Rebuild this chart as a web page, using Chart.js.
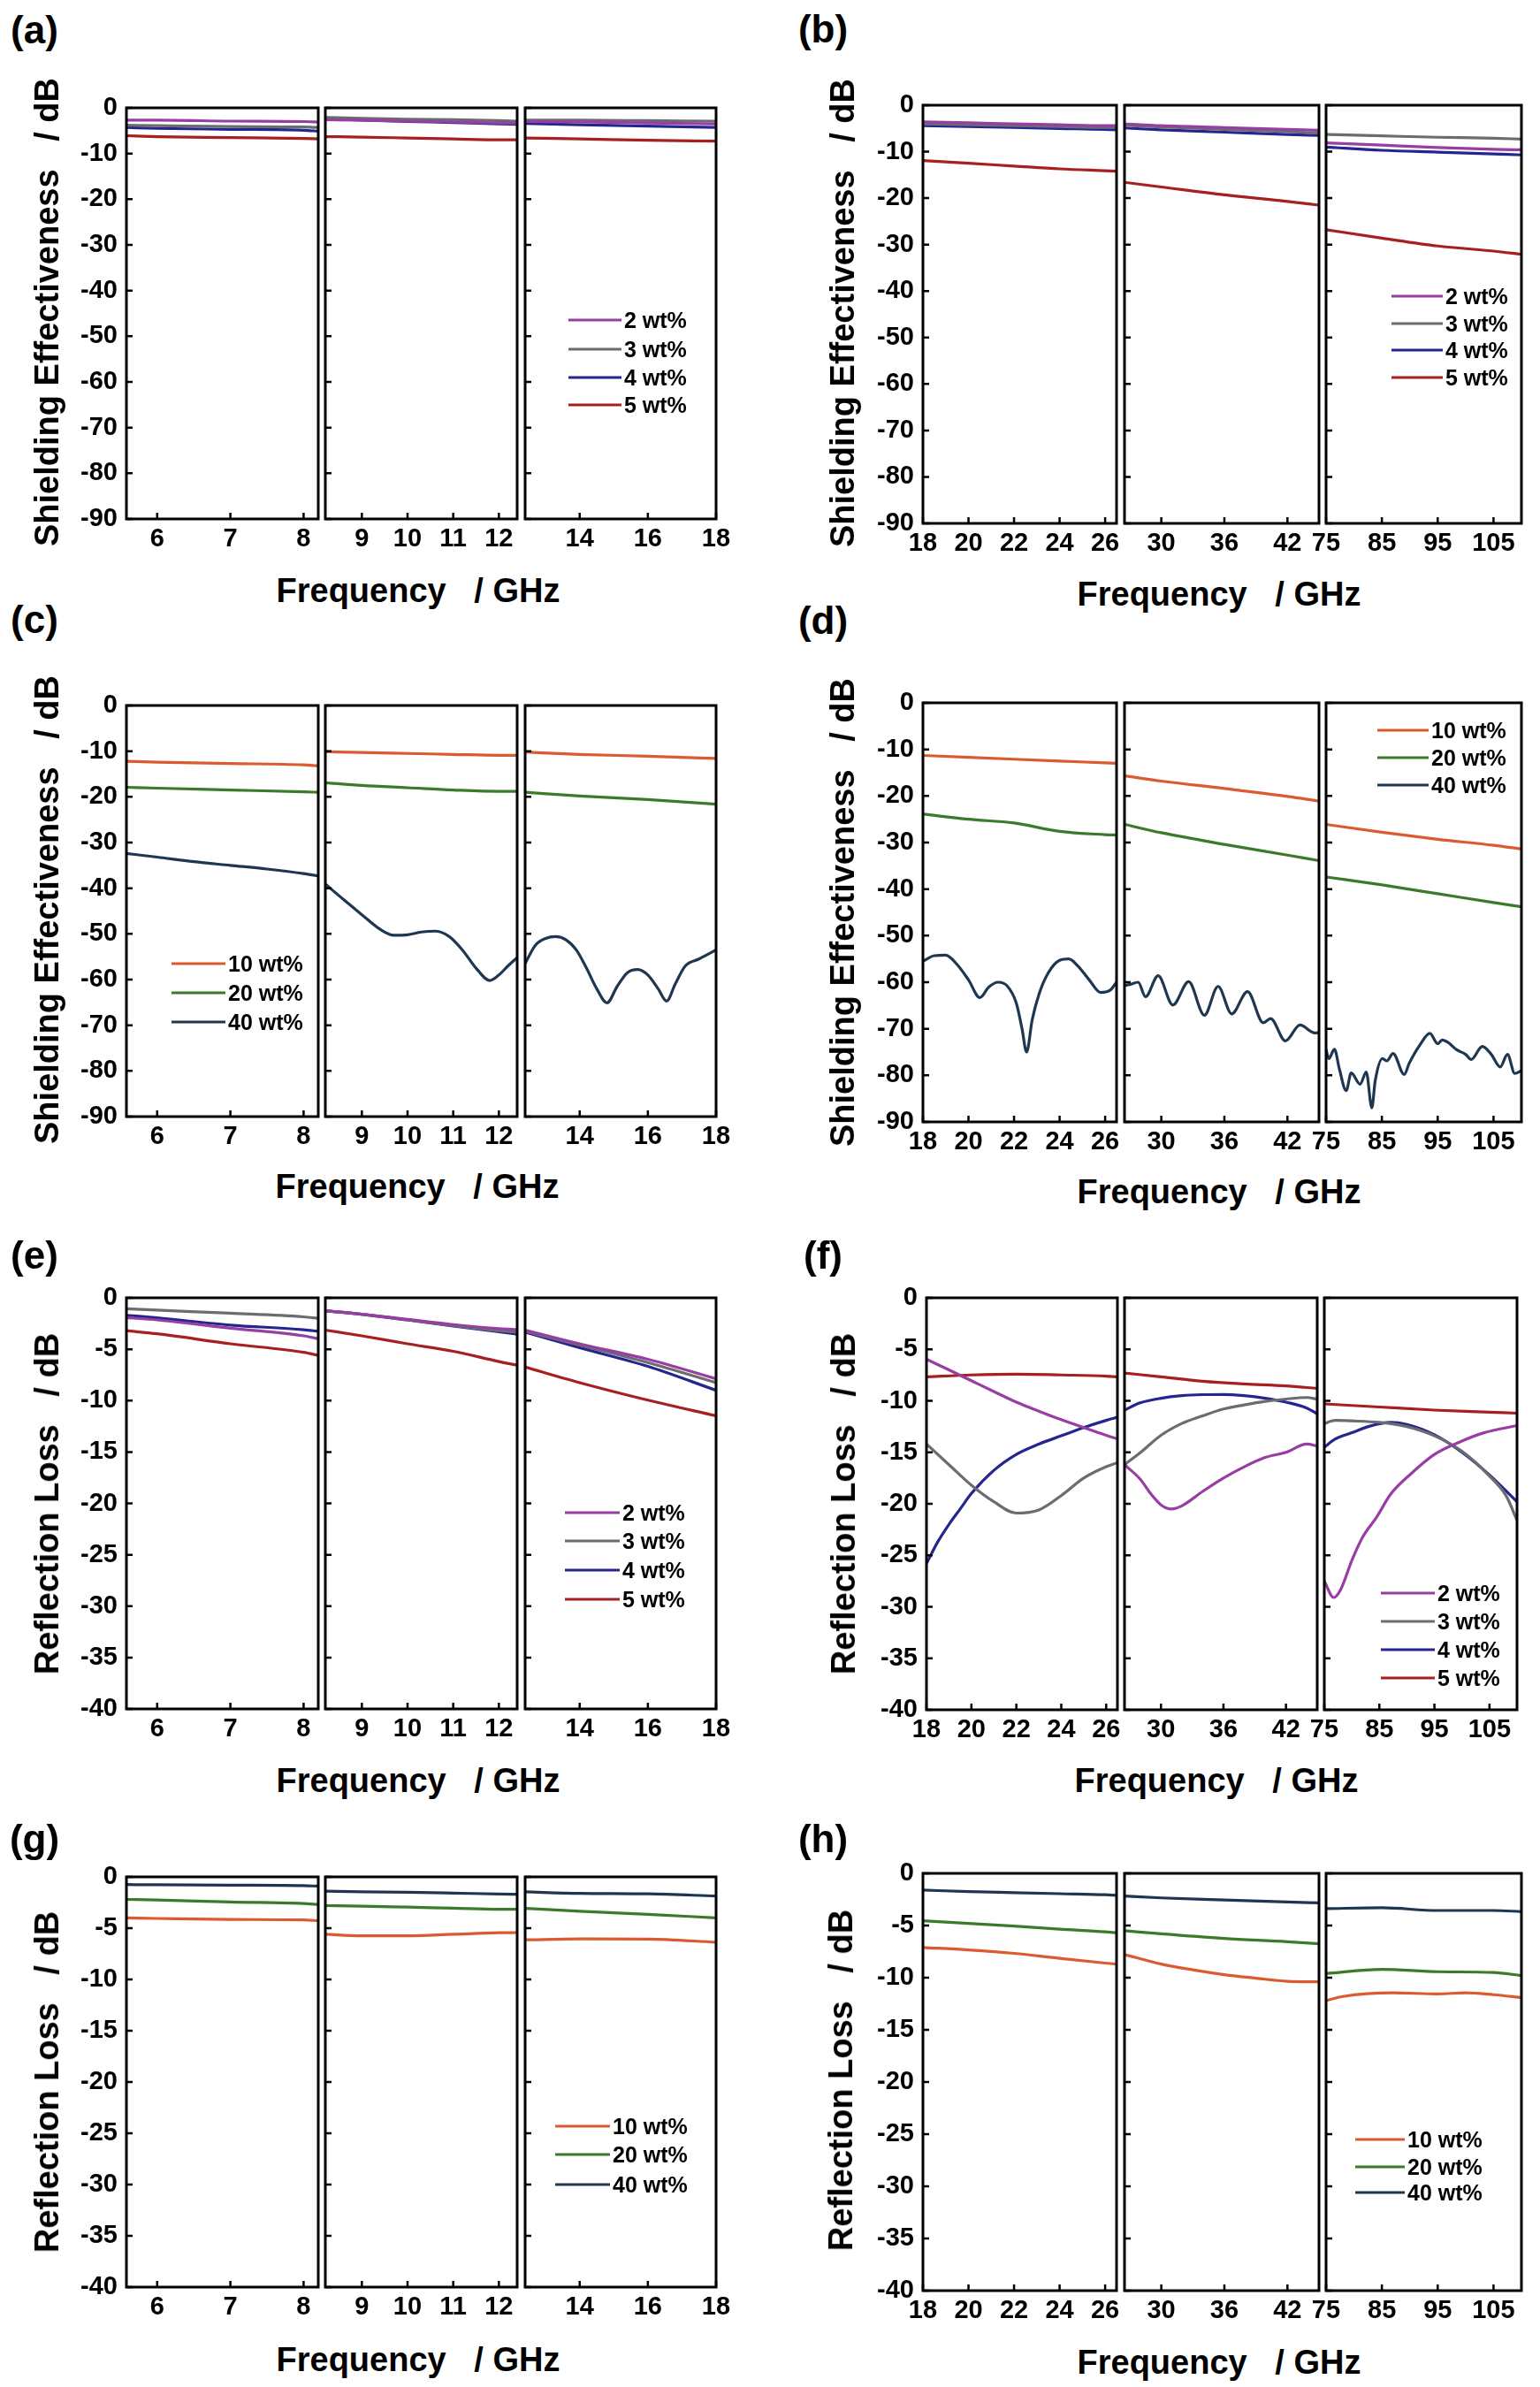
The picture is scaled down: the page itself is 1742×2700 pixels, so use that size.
<!DOCTYPE html>
<html>
<head>
<meta charset="utf-8">
<script src="https://cdn.jsdelivr.net/npm/chart.js@4.4.0/dist/chart.umd.min.js"></script>
<style>
  body { margin: 0; width: 1742px; height: 2700px; position: relative; overflow: hidden; background: #fff;
         font-family: "Liberation Sans", Arial, sans-serif; font-weight: bold; color: #000; }
  canvas { position: absolute; }
  .txt { position: absolute; white-space: pre; line-height: 1; }
  .leg { position: absolute; display: flex; align-items: center; transform: translateY(-50%);
         font-size: 25px; line-height: 1; white-space: pre; }
  .sw { display: inline-block; height: 3px; margin-right: 3px; }
</style>
</head>
<body>
<script>
// frequency grids (GHz), one per band
const fC = [5.58, 6, 7, 8, 8.2];
const fX = [8.2, 9, 10, 11, 12, 12.4];
const fKu = [12.4, 14, 16, 18];
const fK = [18, 20, 22, 24, 26, 26.5];
const fKa = [26.5, 30, 36, 42, 45];
const fW = [75, 85, 95, 105, 110];
const gridLow = [fC, fX, fKu];
const gridHigh = [fK, fKa, fW];

// axis ranges and ticks
const limitsLow = [[5.58, 8.2], [8.2, 12.4], [12.4, 18]];
const limitsHigh = [[18, 26.5], [26.5, 45], [75, 110]];
const ticksLow = [[6, 7, 8], [9, 10, 11, 12], [14, 16, 18]];
const ticksHigh = [[18, 20, 22, 24, 26], [30, 36, 42], [75, 85, 95, 105]];
const ticksSE = [0, -10, -20, -30, -40, -50, -60, -70, -80, -90];
const ticksRL = [0, -5, -10, -15, -20, -25, -30, -35, -40];

const loadsA = ['2 wt%', '3 wt%', '4 wt%', '5 wt%'];
const loadsB = ['10 wt%', '20 wt%', '40 wt%'];
const colorsA = ['#983ea3', '#6b6b72', '#25258f', '#a81f20'];
const colorsB = ['#dc5a30', '#3b7a2a', '#1f3651'];

// (a) shielding effectiveness, 2-5 wt%, 5.6-18 GHz
const seA2 = [[-2.7, -2.7, -2.9, -3.0, -3.1], [-2.6, -2.7, -2.9, -3.1, -3.3, -3.4], [-3.0, -3.1, -3.3, -3.5]];
const seA3 = [[-3.8, -3.9, -4.1, -4.2, -4.3], [-2.1, -2.3, -2.5, -2.6, -2.8, -2.9], [-2.7, -2.7, -2.8, -2.9]];
const seA4 = [[-4.3, -4.5, -4.7, -4.9, -5.1], [-2.4, -2.7, -3.0, -3.2, -3.5, -3.6], [-3.4, -3.7, -4.0, -4.3]];
const seA5 = [[-6.1, -6.3, -6.5, -6.7, -6.8], [-6.3, -6.4, -6.6, -6.8, -7.0, -7.0], [-6.6, -6.8, -7.1, -7.3]];

// (b) shielding effectiveness, 2-5 wt%, 18-110 GHz
const seB2 = [[-3.6, -3.8, -4.0, -4.2, -4.4, -4.4], [-4.0, -4.4, -4.8, -5.2, -5.4], [-8.1, -8.6, -9.1, -9.5, -9.6]];
const seB3 = [[-4.0, -4.2, -4.4, -4.6, -4.8, -4.8], [-4.3, -4.7, -5.2, -5.7, -6.0], [-6.3, -6.6, -6.9, -7.1, -7.3]];
const seB4 = [[-4.4, -4.6, -4.8, -5.0, -5.2, -5.3], [-4.9, -5.3, -5.8, -6.3, -6.5], [-9.0, -9.7, -10.1, -10.5, -10.7]];
const seB5 = [[-11.9, -12.5, -13.1, -13.7, -14.1, -14.2], [-16.6, -17.6, -19.3, -20.7, -21.5], [-26.8, -28.6, -30.3, -31.4, -32.1]];

// (c) shielding effectiveness, 10-40 wt%, 5.6-18 GHz
const seC10 = [[-12.2, -12.4, -12.7, -13.0, -13.2], [-10.1, -10.3, -10.5, -10.7, -10.9, -10.9], [-10.2, -10.7, -11.1, -11.6]];
const seC20 = [[-17.9, -18.1, -18.5, -18.9, -19.0], [-16.9, -17.5, -18.0, -18.5, -18.8, -18.8], [-19.0, -19.8, -20.6, -21.6]];
const fC40 = [
  [5.58, 6, 6.5, 7, 7.5, 8, 8.2],
  [8.2, 8.6, 9.0, 9.4, 9.7, 10.0, 10.3, 10.6, 10.9, 11.2, 11.5, 11.8, 12.0, 12.2, 12.4],
  [12.4, 12.7, 13.0, 13.3, 13.6, 13.9, 14.2, 14.5, 14.8, 15.1, 15.4, 15.7, 16.0, 16.3, 16.55, 16.8, 17.1, 17.5, 18.0]
];
const seC40 = [
  [-32.4, -33.2, -34.2, -35.0, -35.8, -36.8, -37.3],
  [-39.1, -42.5, -45.8, -49.0, -50.3, -50.2, -49.6, -49.4, -50.5, -53.5, -57.5, -60.2, -59.0, -57.0, -55.2],
  [-56.5, -52.5, -51.0, -50.6, -51.3, -53.5, -57.5, -62.0, -65.1, -61.5, -58.5, -57.8, -59.0, -62.0, -64.7, -61.0, -57.0, -55.5, -53.5]
];

// (d) shielding effectiveness, 10-40 wt%, 18-110 GHz
const seD10 = [[-11.3, -11.7, -12.1, -12.5, -12.9, -13.0], [-15.7, -16.8, -18.4, -20.1, -21.1], [-26.1, -27.8, -29.3, -30.6, -31.4]];
const seD20 = [[-23.9, -25.0, -25.8, -27.6, -28.3, -28.4], [-26.1, -27.9, -30.4, -32.7, -33.9], [-37.4, -39.1, -41.0, -42.9, -43.8]];
const fD40 = [
  [18, 18.5, 19.0, 19.5, 20.0, 20.5, 20.9, 21.3, 21.7, 22.1, 22.35, 22.55, 22.8, 23.1, 23.5, 24.0, 24.4, 24.8, 25.3, 25.8, 26.2, 26.5],
  [26.5, 27.0, 27.8, 28.5, 29.7, 31.1, 32.6, 34.1, 35.4, 36.7, 38.2, 39.7, 40.4, 41.8, 43.2, 44.6, 45],
  [75, 75.5, 76.5, 77.4, 78.6, 79.5, 81.1, 82.2, 83.2, 83.8, 85.1, 85.9, 87.0, 89.0, 89.9, 91.8, 93.6, 95.0, 95.8, 96.8, 98.4, 100.0, 101.0, 103.0, 104.6, 106.2, 107.5, 108.8, 110]
];
const seD40 = [
  [-55.5, -54.3, -54.2, -56.2, -59.5, -63.3, -61.0, -60.0, -60.8, -64.5, -70.0, -75.0, -68.0, -62.5, -58.0, -55.3, -55.0, -56.5, -59.5, -62.2, -61.8, -60.0],
  [-60.7, -60.5, -60.0, -63.1, -58.6, -64.9, -59.9, -67.1, -60.9, -66.8, -62.0, -68.7, -67.8, -72.6, -69.2, -70.9, -70.8],
  [-74.5, -76.4, -74.4, -78.7, -83.3, -79.5, -81.9, -79.3, -87.0, -81.2, -76.4, -76.9, -75.3, -79.8, -77.4, -73.5, -71.0, -73.2, -72.4, -72.9, -74.5, -75.5, -76.6, -73.8, -75.5, -78.2, -75.5, -79.6, -79.0]
];

// (e) reflection loss, 2-5 wt%, 5.6-18 GHz
const rlE2 = [[-1.93, -2.15, -2.95, -3.7, -3.98], [-1.25, -1.6, -2.1, -2.6, -3.0, -3.1], [-3.14, -4.47, -5.98, -7.88]];
const rlE3 = [[-1.06, -1.2, -1.5, -1.85, -2.0], [-1.25, -1.6, -2.15, -2.7, -3.2, -3.35], [-3.26, -4.6, -6.3, -8.26]];
const rlE4 = [[-1.7, -1.95, -2.65, -3.1, -3.26], [-1.25, -1.6, -2.15, -2.75, -3.3, -3.55], [-3.33, -4.85, -6.67, -9.0]];
const rlE5 = [[-3.2, -3.5, -4.47, -5.3, -5.6], [-3.14, -3.7, -4.47, -5.2, -6.2, -6.55], [-6.74, -8.26, -9.96, -11.48]];

// (f) reflection loss, 2-5 wt%, 18-110 GHz
const fF2 = [[18, 19, 20, 21, 22, 23, 24, 25, 26, 26.5], [26.5, 28, 29, 30, 31, 32, 34, 36, 38, 40, 42, 44, 45], [75, 76.7, 78, 80, 82, 84.5, 87, 90.7, 95, 100, 104, 110]];
const rlF2 = [
  [-5.97, -7.0, -8.05, -9.1, -10.13, -11.0, -11.83, -12.6, -13.35, -13.7],
  [-16.2, -17.6, -19.0, -20.1, -20.5, -20.2, -18.8, -17.5, -16.4, -15.5, -15.0, -14.2, -14.4],
  [-27.5, -29.1, -28.3, -25.5, -23.2, -21.3, -19.1, -17.1, -15.2, -13.9, -13.1, -12.4]
];
const fF3 = [[18, 19, 20, 21, 22, 23, 24, 25, 26, 26.5], [26.5, 28, 30, 32, 34, 36, 38, 40, 42, 44, 45], [75, 77, 80, 85, 90, 95, 100, 105, 108, 110]];
const rlF3 = [
  [-14.2, -16.2, -18.2, -19.8, -20.9, -20.6, -19.2, -17.5, -16.4, -16.0],
  [-16.2, -15.05, -13.35, -12.2, -11.46, -10.8, -10.4, -10.06, -9.83, -9.68, -9.83],
  [-12.2, -11.9, -11.95, -12.1, -12.5, -13.4, -14.9, -17.3, -19.2, -21.6]
];
const fF4 = [[18, 18.5, 19, 19.5, 20, 21, 22, 23, 24, 25, 26, 26.5], [26.5, 28, 30, 32, 34, 36, 38, 40, 42, 44, 45], [75, 77, 80, 83, 87, 90, 95, 100, 105, 110]];
const rlF4 = [
  [-25.8, -23.7, -22.0, -20.5, -19.0, -16.75, -15.2, -14.2, -13.4, -12.6, -11.9, -11.6],
  [-10.9, -10.2, -9.75, -9.5, -9.4, -9.38, -9.5, -9.75, -10.13, -10.7, -11.27],
  [-14.5, -13.7, -13.1, -12.5, -12.1, -12.3, -13.3, -15.0, -17.2, -19.8]
];
const fF5 = [[18, 20, 22, 24, 26, 26.5], [26.5, 30, 34, 38, 42, 45], [75, 85, 95, 105, 110]];
const rlF5 = [[-7.67, -7.49, -7.41, -7.49, -7.6, -7.67], [-7.3, -7.67, -8.1, -8.36, -8.55, -8.8], [-10.3, -10.6, -10.9, -11.1, -11.2]];

// (g) reflection loss, 10-40 wt%, 5.6-18 GHz
const rlG10 = [[-4.0, -4.05, -4.15, -4.2, -4.27], [-5.6, -5.75, -5.75, -5.6, -5.45, -5.43], [-6.14, -6.05, -6.07, -6.37]];
const rlG20 = [[-2.2, -2.25, -2.45, -2.6, -2.7], [-2.8, -2.85, -2.95, -3.05, -3.15, -3.15], [-3.07, -3.35, -3.65, -4.0]];
const rlG40 = [[-0.75, -0.77, -0.8, -0.85, -0.9], [-1.39, -1.45, -1.5, -1.58, -1.67, -1.69], [-1.46, -1.6, -1.65, -1.87]];

// (h) reflection loss, 10-40 wt%, 18-110 GHz
const fH10 = [fK, [26.5, 30, 33, 36, 39, 42, 45], [75, 78, 87, 95, 100, 105, 110]];
const rlH10 = [[-7.1, -7.34, -7.67, -8.15, -8.6, -8.7], [-7.78, -8.7, -9.25, -9.72, -10.05, -10.35, -10.4], [-12.2, -11.8, -11.45, -11.56, -11.45, -11.63, -11.9]];
const rlH20 = [[-4.55, -4.8, -5.05, -5.35, -5.6, -5.7], [-5.5, -5.8, -6.24, -6.55, -6.75], [-9.6, -9.2, -9.43, -9.5, -9.8]];
const rlH40 = [[-1.6, -1.75, -1.85, -1.95, -2.05, -2.1], [-2.17, -2.35, -2.55, -2.75, -2.83], [-3.38, -3.3, -3.56, -3.56, -3.67]];

// page layout (pixels)
const colL = [[143, 360], [368, 585], [594, 810]];
const colR = [[1044, 1263], [1272, 1492], [1500, 1721]];
const colF = [[1048, 1264], [1272, 1490], [1498, 1716]];

const panels = [
  { tag: '(a)', kind: 'SE', band: 'low', frames: colL, top: 122, bottom: 587, names: loadsA, colors: colorsA,
    series: [[gridLow, seA2], [gridLow, seA3], [gridLow, seA4], [gridLow, seA5]],
    legend: { x: 643, w: 60, rows: [362, 395, 427, 458] }, tagPos: [39, 34], xTitle: [473, 668], yTitle: [53, 353] },
  { tag: '(b)', kind: 'SE', band: 'high', frames: colR, top: 119, bottom: 592, names: loadsA, colors: colorsA,
    series: [[gridHigh, seB2], [gridHigh, seB3], [gridHigh, seB4], [gridHigh, seB5]],
    legend: { x: 1574, w: 58, rows: [335, 366, 396, 427] }, tagPos: [931, 33], xTitle: [1379, 672], yTitle: [953, 354] },
  { tag: '(c)', kind: 'SE', band: 'low', frames: colL, top: 798, bottom: 1263, names: loadsB, colors: colorsB,
    series: [[gridLow, seC10], [gridLow, seC20], [fC40, seC40]],
    legend: { x: 194, w: 61, rows: [1090, 1123, 1156] }, tagPos: [39, 701], xTitle: [472, 1342], yTitle: [53, 1029] },
  { tag: '(d)', kind: 'SE', band: 'high', frames: colR, top: 795, bottom: 1269, names: loadsB, colors: colorsB,
    series: [[gridHigh, seD10], [gridHigh, seD20], [fD40, seD40]],
    legend: { x: 1558, w: 58, rows: [826, 857, 888] }, tagPos: [931, 702], xTitle: [1379, 1348], yTitle: [953, 1032] },
  { tag: '(e)', kind: 'RL', band: 'low', frames: colL, top: 1468, bottom: 1933, names: loadsA, colors: colorsA,
    series: [[gridLow, rlE2], [gridLow, rlE3], [gridLow, rlE4], [gridLow, rlE5]],
    legend: { x: 639, w: 62, rows: [1711, 1743, 1776, 1809] }, tagPos: [39, 1420], xTitle: [473, 2014], yTitle: [53, 1701] },
  { tag: '(f)', kind: 'RL', band: 'high', frames: colF, top: 1468, bottom: 1934, names: loadsA, colors: colorsA,
    series: [[fF2, rlF2], [fF3, rlF3], [fF4, rlF4], [fF5, rlF5]],
    legend: { x: 1562, w: 61, rows: [1802, 1834, 1866, 1898] }, tagPos: [931, 1420], xTitle: [1376, 2014], yTitle: [954, 1701] },
  { tag: '(g)', kind: 'RL', band: 'low', frames: colL, top: 2123, bottom: 2587, names: loadsB, colors: colorsB,
    series: [[gridLow, rlG10], [gridLow, rlG20], [gridLow, rlG40]],
    legend: { x: 628, w: 62, rows: [2405, 2437, 2471] }, tagPos: [39, 2080], xTitle: [473, 2669], yTitle: [53, 2355] },
  { tag: '(h)', kind: 'RL', band: 'high', frames: colR, top: 2119, bottom: 2591, names: loadsB, colors: colorsB,
    series: [[fH10, rlH10], [gridHigh, rlH20], [gridHigh, rlH40]],
    legend: { x: 1533, w: 56, rows: [2420, 2451, 2480] }, tagPos: [931, 2080], xTitle: [1379, 2672], yTitle: [951, 2353] }
];

const titles = { SE: 'Shielding Effectiveness   / dB', RL: 'Reflection Loss   / dB' };

Chart.defaults.font.family = '"Liberation Sans", Arial, sans-serif';
Chart.defaults.font.weight = 'bold';
Chart.defaults.color = '#000';

// box around each sub-plot plus inward tick marks
const frameTicks = {
  id: 'frameTicks',
  afterDatasetsDraw(chart) {
    const { ctx, chartArea: a, scales: { x, y } } = chart;
    ctx.save();
    ctx.strokeStyle = '#000';
    ctx.lineWidth = 2.5;
    ctx.beginPath();
    x.ticks.forEach(t => {
      const px = x.getPixelForValue(t.value);
      ctx.moveTo(px, a.bottom);
      ctx.lineTo(px, a.bottom - 7);
    });
    y.ticks.forEach(t => {
      const py = y.getPixelForValue(t.value);
      ctx.moveTo(a.left, py);
      ctx.lineTo(a.left + 7, py);
    });
    ctx.stroke();
    ctx.lineWidth = 3;
    ctx.strokeRect(a.left, a.top, a.right - a.left, a.bottom - a.top);
    ctx.restore();
  }
};

function addText(txt, cx, cy, size, rotate) {
  const d = document.createElement('div');
  d.className = 'txt';
  d.textContent = txt;
  d.style.left = cx + 'px';
  d.style.top = cy + 'px';
  d.style.fontSize = size + 'px';
  d.style.transform = 'translate(-50%,-50%)' + (rotate ? ' rotate(-90deg)' : '');
  document.body.appendChild(d);
}

function addLegend(p) {
  p.names.forEach((n, i) => {
    const row = document.createElement('div');
    row.className = 'leg';
    row.style.left = p.legend.x + 'px';
    row.style.top = p.legend.rows[i] + 'px';
    const sw = document.createElement('span');
    sw.className = 'sw';
    sw.style.width = p.legend.w + 'px';
    sw.style.background = p.colors[i];
    const label = document.createElement('span');
    label.textContent = n;
    row.appendChild(sw);
    row.appendChild(label);
    document.body.appendChild(row);
  });
}

const Y_W = 80, X_H = 45;

panels.forEach(p => {
  const lims = p.band === 'low' ? limitsLow : limitsHigh;
  const xTicks = p.band === 'low' ? ticksLow : ticksHigh;
  const yTicks = p.kind === 'SE' ? ticksSE : ticksRL;

  p.frames.forEach((fr, k) => {
    const first = k === 0;
    const padL = first ? 100 : 25, padT = 40, padR = 25, padB = 55;
    const w = fr[1] - fr[0] + padL + padR;
    const h = p.bottom - p.top + padT + padB;
    const cv = document.createElement('canvas');
    cv.width = w; cv.height = h;
    cv.style.left = (fr[0] - padL) + 'px';
    cv.style.top = (p.top - padT) + 'px';
    cv.style.width = w + 'px';
    cv.style.height = h + 'px';
    document.body.appendChild(cv);

    new Chart(cv, {
      type: 'line',
      data: {
        datasets: p.series.map((s, i) => ({
          label: p.names[i],
          data: s[0][k].map((f, j) => ({ x: f, y: s[1][k][j] })),
          borderColor: p.colors[i],
          borderWidth: 3.2,
          pointRadius: 0,
          fill: false,
          cubicInterpolationMode: 'monotone'
        }))
      },
      options: {
        responsive: false,
        animation: false,
        events: [],
        layout: { padding: { left: padL - (first ? Y_W : 0), top: padT, right: padR, bottom: padB - X_H } },
        plugins: { legend: { display: false }, tooltip: { enabled: false } },
        scales: {
          x: {
            type: 'linear',
            min: lims[k][0], max: lims[k][1],
            afterBuildTicks: s => { s.ticks = xTicks[k].map(v => ({ value: v })); },
            afterFit: s => { s.height = X_H; },
            grid: { display: false, drawTicks: false },
            border: { display: false },
            ticks: { font: { size: 29, weight: 'bold' }, color: '#000', padding: 6, maxRotation: 0, autoSkip: false }
          },
          y: {
            type: 'linear',
            min: yTicks[yTicks.length - 1], max: 0,
            afterBuildTicks: s => { s.ticks = yTicks.map(v => ({ value: v })); },
            afterFit: s => { s.width = first ? Y_W : 0; },
            grid: { display: false, drawTicks: false },
            border: { display: false },
            ticks: { display: first, font: { size: 29, weight: 'bold' }, color: '#000', padding: 10 }
          }
        }
      },
      plugins: [frameTicks]
    });
  });

  addLegend(p);
  addText(p.tag, p.tagPos[0], p.tagPos[1], 44, false);
  addText('Frequency   / GHz', p.xTitle[0], p.xTitle[1], 38, false);
  addText(titles[p.kind], p.yTitle[0], p.yTitle[1], 38, true);
});
</script>
</body>
</html>
